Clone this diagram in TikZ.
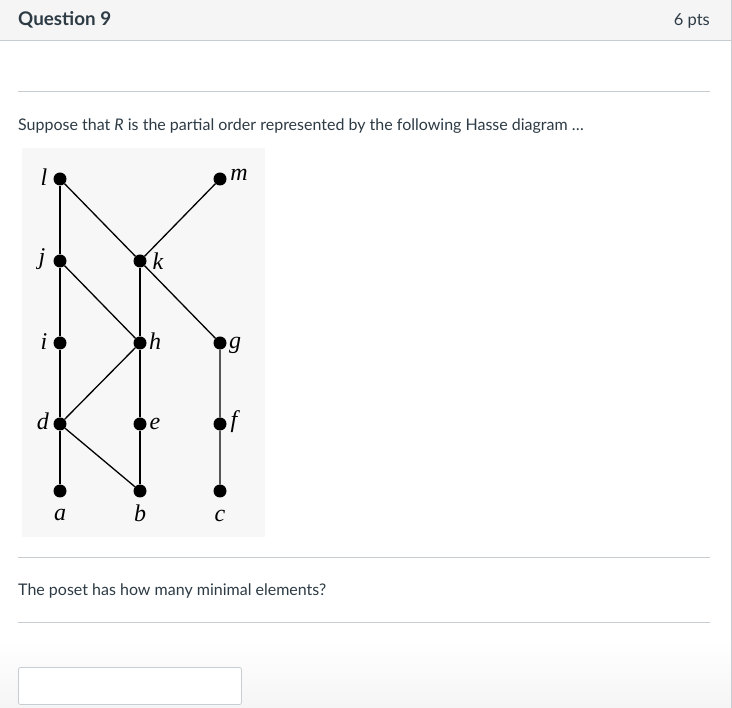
\documentclass[tikz,border=0pt]{standalone}
\usepackage{fontspec}
\setmainfont{Lato}
\newfontfamily\lblfont{Liberation Serif}
\definecolor{txt}{HTML}{2D3B45}
\definecolor{rule}{HTML}{C7CDD1}
\definecolor{hdr}{HTML}{F5F5F5}
\definecolor{fig}{HTML}{F7F7F7}
\begin{document}
\begin{tikzpicture}[x=1pt,y=-1pt,
  vtx/.style={circle,fill=black,inner sep=0pt,minimum size=13pt},
  edge/.style={line width=1.3pt,black},
  lbl/.style={font=\lblfont\itshape\fontsize{24}{24}\selectfont,inner sep=0pt},
  body/.style={font=\fontsize{16}{19}\selectfont,text=txt,inner sep=0pt,anchor=base west}]
\useasboundingbox (0,0) rectangle (732,708);
\fill[white] (0,0) rectangle (732,708);
% bottom shading
\shade[top color=white,bottom color=hdr] (0,640) rectangle (731,708);
% header
\fill[hdr] (0,0) rectangle (731,41);
\draw[rule,line width=1pt] (0,41) -- (731,41);
\draw[rule,line width=1pt] (731,0) -- (731,708);
\node[font=\bfseries\fontsize{18.8}{22}\selectfont,text=txt,inner sep=0pt,anchor=base west] (title) at (18,26) {Question 9};
\node[font=\fontsize{16.5}{19}\selectfont,text=txt,inner sep=0pt,anchor=base east] (pts) at (710,26) {6 pts};
% rules
\draw[rule,line width=0.8pt] (18,91) -- (710,91);
\node[body] (q) at (18,131) {Suppose that \textit{R} is the partial order represented by the following Hasse diagram \ldots};
% figure background
\fill[fig] (22,148) rectangle (265,537);
% vertices
\node[vtx] (l) at (60,179) {};
\node[vtx] (m) at (220,179) {};
\node[vtx] (j) at (60,261) {};
\node[vtx] (k) at (140,261) {};
\node[vtx] (i) at (60,343) {};
\node[vtx] (h) at (140,343) {};
\node[vtx] (g) at (220,343) {};
\node[vtx] (d) at (60,424) {};
\node[vtx] (e) at (140,424) {};
\node[vtx] (f) at (220,424) {};
\node[vtx] (a) at (60,491) {};
\node[vtx] (b) at (140,491) {};
\node[vtx] (c) at (220,491) {};
% edges
\draw[edge] (l) -- (j) -- (i) -- (d) -- (a);
\draw[edge] (l) -- (k);
\draw[edge] (m) -- (k);
\draw[edge] (k) -- (h) -- (e) -- (b);
\draw[edge] (k) -- (g) -- (f) -- (c);
\draw[edge] (j) -- (h);
\draw[edge] (h) -- (d);
\draw[edge] (d) -- (b);
% labels
\node[lbl] (Ll) at (44,177) {l};
\node[lbl] (Lm) at (239,175) {m};
\node[lbl] (Lj) at (42,259) {j};
\node[lbl] (Lk) at (158,261) {k};
\node[lbl] (Li) at (44,342) {i};
\node[lbl] (Lh) at (155,341) {h};
\node[lbl] (Lg) at (235,345) {g};
\node[lbl] (Ld) at (43,421) {d};
\node[lbl] (Le) at (155,424) {e};
\node[lbl] (Lf) at (234,422) {f};
\node[lbl] (La) at (60,515) {a};
\node[lbl] (Lb) at (140,513) {b};
\node[lbl] (Lc) at (220,516) {c};
% lower part
\draw[rule,line width=0.8pt] (18,557) -- (710,557);
\node[body] (q2) at (18,596) {The poset has how many minimal elements?};
\draw[rule,line width=0.8pt] (18,622) -- (710,622);
\draw[rule,line width=0.8pt,fill=white,rounded corners=2pt] (18.5,667.5) rectangle (241.5,704.5);
\end{tikzpicture}
\end{document}
